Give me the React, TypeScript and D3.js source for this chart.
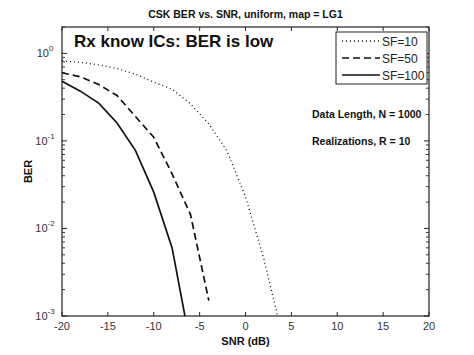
import React, { useEffect, useRef } from 'react';
import * as d3 from 'd3';

const snr10 = [-20, -18, -16, -14, -12, -10, -8, -6, -4, -2, 0, 2, 3.5];
const ber10 = [0.82, 0.79, 0.74, 0.67, 0.58, 0.47, 0.39, 0.265, 0.157, 0.076, 0.023, 0.0045, 0.001];
const snr50 = [-20, -18, -16, -14, -12, -10, -8, -6, -4];
const ber50 = [0.6, 0.54, 0.44, 0.33, 0.19, 0.11, 0.042, 0.0145, 0.0015];
const snr100 = [-20, -18, -16, -14, -12, -10, -8, -6.6];
const ber100 = [0.48, 0.37, 0.27, 0.16, 0.078, 0.026, 0.006, 0.001];
const seriesNames = ['SF=10', 'SF=50', 'SF=100'];
const xTicks = [-20, -15, -10, -5, 0, 5, 10, 15, 20];
const yTicks = [-3, -2, -1, 0];

const App = () => {
    const ref = useRef<SVGSVGElement>(null);

    useEffect(() => {
        const width = 474;
        const height = 355;
        const margin = { top: 27, right: 45, bottom: 39, left: 62 };
        const innerW = width - margin.left - margin.right;
        const innerH = height - margin.top - margin.bottom;
        const font = 'Liberation Sans, Arial, sans-serif';

        const svg = d3.select(ref.current);
        svg.selectAll('*').remove();
        svg.append('rect').attr('width', width).attr('height', height).attr('fill', '#fff');

        const g = svg.append('g').attr('transform', `translate(${margin.left}, ${margin.top})`);

        const xScale = d3.scaleLinear().domain([-20, 20]).range([0, innerW]);
        const yScale = d3.scaleLog().domain([1e-3, 2]).range([innerH, 0]);

        // box
        g.append('rect')
            .attr('width', innerW)
            .attr('height', innerH)
            .attr('fill', 'none')
            .attr('stroke', '#222')
            .attr('stroke-width', 1.2);

        // x ticks, top and bottom, pointing in
        xTicks.forEach(t => {
            const x = xScale(t);
            g.append('line').attr('x1', x).attr('x2', x).attr('y1', innerH).attr('y2', innerH - 4).attr('stroke', '#222');
            g.append('line').attr('x1', x).attr('x2', x).attr('y1', 0).attr('y2', 4).attr('stroke', '#222');
            g.append('text')
                .attr('x', x)
                .attr('y', innerH + 14)
                .attr('text-anchor', 'middle')
                .attr('font-family', font)
                .attr('font-size', 11)
                .attr('fill', '#333')
                .text(t);
        });

        // y ticks: majors and minors on both sides
        const minors: number[] = [];
        for (let e = -3; e <= 0; e++) {
            for (let m = 2; m <= 9; m++) {
                const v = m * Math.pow(10, e);
                if (v <= 2) minors.push(v);
            }
        }
        minors.forEach(v => {
            const y = yScale(v);
            g.append('line').attr('x1', 0).attr('x2', 3).attr('y1', y).attr('y2', y).attr('stroke', '#333');
            g.append('line').attr('x1', innerW).attr('x2', innerW - 3).attr('y1', y).attr('y2', y).attr('stroke', '#333');
        });
        yTicks.forEach(e => {
            const y = yScale(Math.pow(10, e));
            g.append('line').attr('x1', 0).attr('x2', 5).attr('y1', y).attr('y2', y).attr('stroke', '#222');
            g.append('line').attr('x1', innerW).attr('x2', innerW - 5).attr('y1', y).attr('y2', y).attr('stroke', '#222');
            const t = g.append('text')
                .attr('x', -17)
                .attr('y', y + 4)
                .attr('text-anchor', 'middle')
                .attr('font-family', font)
                .attr('font-size', 11)
                .attr('fill', '#333');
            t.append('tspan').text('10');
            t.append('tspan').attr('dy', -6).attr('font-size', 8).text(e);
        });

        // lines
        const line = d3.line<[number, number]>()
            .x(d => xScale(d[0]))
            .y(d => yScale(d[1]));

        const series = [
            { x: snr10, y: ber10, dash: '1,3', width: 1.3 },
            { x: snr50, y: ber50, dash: '7,4', width: 1.7 },
            { x: snr100, y: ber100, dash: null, width: 1.7 }
        ];
        series.forEach(s => {
            const pts = s.x.map((v, i) => [v, s.y[i]] as [number, number]);
            g.append('path')
                .attr('d', line(pts))
                .attr('fill', 'none')
                .attr('stroke', '#111')
                .attr('stroke-width', s.width)
                .attr('stroke-dasharray', s.dash);
        });

        // legend
        const lg = svg.append('g').attr('transform', 'translate(336, 32)');
        lg.append('rect')
            .attr('width', 91)
            .attr('height', 52)
            .attr('fill', '#fff')
            .attr('stroke', '#222');
        seriesNames.forEach((name, i) => {
            const y = 9 + i * 17;
            lg.append('line')
                .attr('x1', 6)
                .attr('x2', 44)
                .attr('y1', y)
                .attr('y2', y)
                .attr('stroke', '#111')
                .attr('stroke-width', series[i].width)
                .attr('stroke-dasharray', series[i].dash);
            lg.append('text')
                .attr('x', 46)
                .attr('y', y + 4.5)
                .attr('font-family', font)
                .attr('font-size', 12)
                .attr('fill', '#222')
                .text(name);
        });

        // annotations
        svg.append('text')
            .attr('x', 74)
            .attr('y', 47)
            .attr('font-family', font)
            .attr('font-weight', 'bold')
            .attr('font-size', 17)
            .attr('fill', '#111')
            .text('Rx know ICs: BER is low');
        svg.append('text')
            .attr('x', 312)
            .attr('y', 118)
            .attr('font-family', font)
            .attr('font-weight', 'bold')
            .attr('font-size', 10.5)
            .attr('fill', '#111')
            .text('Data Length, N = 1000');
        svg.append('text')
            .attr('x', 312)
            .attr('y', 145)
            .attr('font-family', font)
            .attr('font-weight', 'bold')
            .attr('font-size', 10.5)
            .attr('fill', '#111')
            .text('Realizations, R = 10');

        // title and axis labels
        svg.append('text')
            .attr('x', margin.left + innerW / 2)
            .attr('y', 18)
            .attr('text-anchor', 'middle')
            .attr('font-family', font)
            .attr('font-weight', 'bold')
            .attr('font-size', 10.5)
            .attr('fill', '#111')
            .text('CSK BER vs. SNR, uniform, map = LG1');
        svg.append('text')
            .attr('x', margin.left + innerW / 2)
            .attr('y', 345)
            .attr('text-anchor', 'middle')
            .attr('font-family', font)
            .attr('font-weight', 'bold')
            .attr('font-size', 11)
            .attr('fill', '#111')
            .text('SNR (dB)');
        svg.append('text')
            .attr('transform', `translate(32, ${margin.top + innerH / 2}) rotate(-90)`)
            .attr('text-anchor', 'middle')
            .attr('font-family', font)
            .attr('font-weight', 'bold')
            .attr('font-size', 11)
            .attr('fill', '#111')
            .text('BER');
    }, []);

    return (
        <svg ref={ref} width={474} height={355} style={{ position: 'absolute', left: 0, top: 0 }} />
    );
};

export default App;
